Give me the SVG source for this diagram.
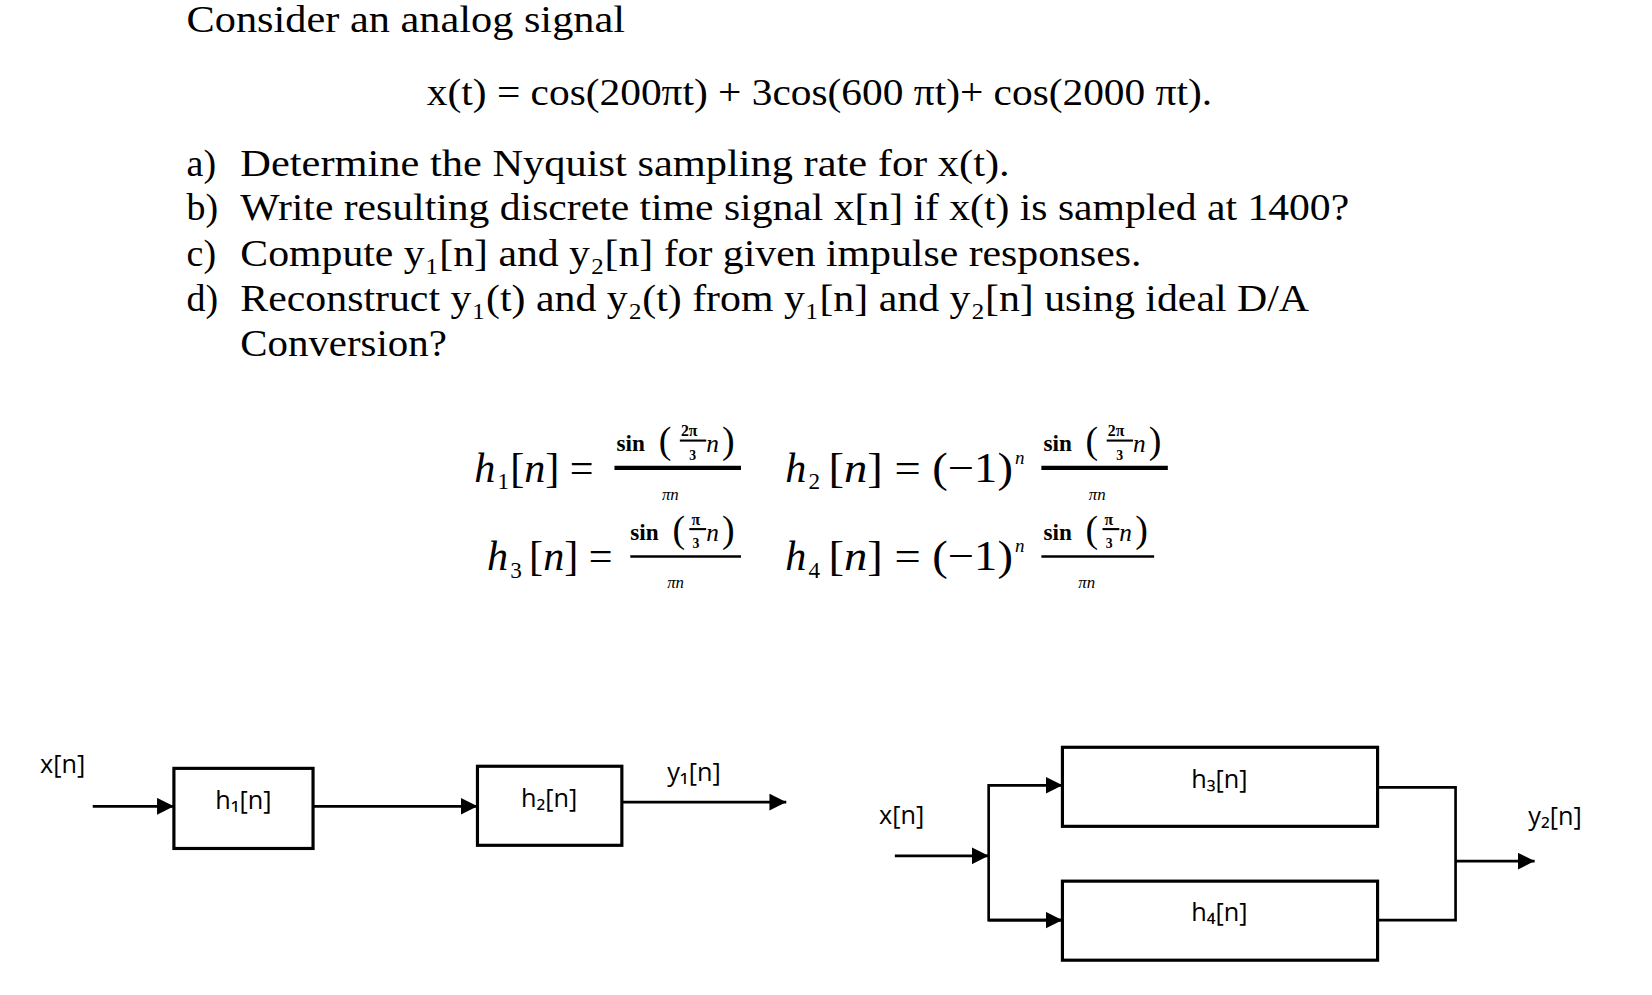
<svg xmlns="http://www.w3.org/2000/svg" width="1652" height="995" viewBox="0 0 1652 995">
<defs>
<marker id="ah" viewBox="0 0 10 10" refX="10" refY="5" markerWidth="16" markerHeight="16" markerUnits="userSpaceOnUse" orient="auto"><path d="M0,0L10,5L0,10z" fill="#000"/></marker>
</defs>
<style>
.t{font-family:"Liberation Serif",serif;font-size:36px;fill:#000}
.m{font-family:"Liberation Serif",serif;fill:#000}
.b{font-family:"Open Sans","Liberation Sans",sans-serif;font-size:24px;fill:#000}
.box{fill:#fff;stroke:#000;stroke-width:3}
.ln{fill:none;stroke:#000;stroke-width:2.5}
</style>
<rect width="1652" height="995" fill="#fff"/>
<g transform="scale(1.054)">
<g id="text">
<text class="t" x="177" y="30" textLength="416" lengthAdjust="spacingAndGlyphs">Consider an analog signal</text>
<text class="t" x="405" y="100" textLength="745" lengthAdjust="spacingAndGlyphs">x(t) = cos(200πt) + 3cos(600 πt)+ cos(2000 πt).</text>
<text class="t" x="177" y="167">a)</text><text class="t" x="228" y="167" textLength="730" lengthAdjust="spacingAndGlyphs">Determine the Nyquist sampling rate for x(t).</text>
<text class="t" x="177" y="209">b)</text><text class="t" x="228" y="209" textLength="1052" lengthAdjust="spacingAndGlyphs">Write resulting discrete time signal x[n] if x(t) is sampled at 1400?</text>
<text class="t" x="177" y="252">c)</text><text class="t" x="228" y="252" textLength="855" lengthAdjust="spacingAndGlyphs">Compute y₁[n] and y₂[n] for given impulse responses.</text>
<text class="t" x="177" y="295">d)</text><text class="t" x="228" y="295" textLength="1014" lengthAdjust="spacingAndGlyphs">Reconstruct y₁(t) and y₂(t) from y₁[n] and y₂[n] using ideal D/A</text>
<text class="t" x="228" y="338" textLength="196" lengthAdjust="spacingAndGlyphs">Conversion?</text>
</g>
<g id="formulas" class="m">
<text x="450" y="457" font-size="40" font-style="italic">h</text><text x="472" y="464" font-size="22">1</text><text x="484" y="457" font-size="40">[<tspan font-style="italic">n</tspan>] =</text>
<text x="585" y="428" font-size="22" font-weight="bold">sin</text><text x="625" y="430" font-size="36">(</text><text x="646" y="414" font-size="15" font-weight="bold">2π</text><line x1="645" y1="418" x2="670" y2="418" stroke="#000" stroke-width="2"/><text x="654" y="436" font-size="13" font-weight="bold">3</text><text x="670" y="429" font-size="24" font-style="italic">n</text><text x="685" y="430" font-size="36">)</text>
<line x1="583" y1="444" x2="703" y2="444" stroke="#000" stroke-width="4"/>
<text x="628" y="474" font-size="16" font-style="italic">πn</text>

<text x="745" y="457" font-size="40" font-style="italic">h</text><text x="767" y="464" font-size="22">2</text><text x="786" y="457" font-size="40" textLength="175" lengthAdjust="spacingAndGlyphs">[<tspan font-style="italic">n</tspan>] = (−1)</text><text x="963" y="440" font-size="18" font-style="italic">n</text>
<text x="990" y="428" font-size="22" font-weight="bold">sin</text><text x="1030" y="430" font-size="36">(</text><text x="1051" y="414" font-size="15" font-weight="bold">2π</text><line x1="1050" y1="418" x2="1075" y2="418" stroke="#000" stroke-width="2"/><text x="1059" y="436" font-size="13" font-weight="bold">3</text><text x="1075" y="429" font-size="24" font-style="italic">n</text><text x="1090" y="430" font-size="36">)</text>
<line x1="988" y1="444" x2="1108" y2="444" stroke="#000" stroke-width="4"/>
<text x="1033" y="474" font-size="16" font-style="italic">πn</text>

<text x="462" y="541" font-size="40" font-style="italic">h</text><text x="484" y="548" font-size="22">3</text><text x="502" y="541" font-size="40">[<tspan font-style="italic">n</tspan>] =</text>
<text x="598" y="512" font-size="22" font-weight="bold">sin</text><text x="638" y="514" font-size="36">(</text><text x="656" y="498" font-size="15" font-weight="bold">π</text><line x1="654" y1="502" x2="670" y2="502" stroke="#000" stroke-width="2"/><text x="657" y="520" font-size="13" font-weight="bold">3</text><text x="670" y="513" font-size="24" font-style="italic">n</text><text x="685" y="514" font-size="36">)</text>
<line x1="598" y1="528" x2="703" y2="528" stroke="#000" stroke-width="2.5"/>
<text x="633" y="558" font-size="16" font-style="italic">πn</text>

<text x="745" y="541" font-size="40" font-style="italic">h</text><text x="767" y="548" font-size="22">4</text><text x="786" y="541" font-size="40" textLength="175" lengthAdjust="spacingAndGlyphs">[<tspan font-style="italic">n</tspan>] = (−1)</text><text x="963" y="524" font-size="18" font-style="italic">n</text>
<text x="990" y="512" font-size="22" font-weight="bold">sin</text><text x="1030" y="514" font-size="36">(</text><text x="1048" y="498" font-size="15" font-weight="bold">π</text><line x1="1046" y1="502" x2="1062" y2="502" stroke="#000" stroke-width="2"/><text x="1049" y="520" font-size="13" font-weight="bold">3</text><text x="1062" y="513" font-size="24" font-style="italic">n</text><text x="1077" y="514" font-size="36">)</text>
<line x1="988" y1="528" x2="1095" y2="528" stroke="#000" stroke-width="2.5"/>
<text x="1023" y="558" font-size="16" font-style="italic">πn</text>
</g>
<g id="connectors">
<line class="ln" x1="88" y1="765" x2="165" y2="765" marker-end="url(#ah)"/>
<line class="ln" x1="297" y1="765" x2="453" y2="765" marker-end="url(#ah)"/>
<line class="ln" x1="590" y1="761" x2="746" y2="761" marker-end="url(#ah)"/>
<line class="ln" x1="849" y1="812" x2="938" y2="812" marker-end="url(#ah)"/>
<polyline class="ln" points="1008,745 938,745 938,873 1008,873"/>
<line class="ln" x1="938" y1="745" x2="1008" y2="745" marker-end="url(#ah)"/>
<line class="ln" x1="938" y1="873" x2="1008" y2="873" marker-end="url(#ah)"/>
<polyline class="ln" points="1307,747 1381,747 1381,873 1307,873"/>
<line class="ln" x1="1381" y1="817" x2="1456" y2="817" marker-end="url(#ah)"/>
</g>
<g id="h1"><rect class="box" x="165" y="729" width="132" height="76"/><text class="b" x="231" y="768" text-anchor="middle">h₁[n]</text></g>
<g id="h2"><rect class="box" x="453" y="727" width="137" height="75"/><text class="b" x="521" y="766" text-anchor="middle">h₂[n]</text></g>
<g id="h3"><rect class="box" x="1008" y="709" width="299" height="75"/><text class="b" x="1157" y="748" text-anchor="middle">h₃[n]</text></g>
<g id="h4"><rect class="box" x="1008" y="836" width="299" height="75"/><text class="b" x="1157" y="874" text-anchor="middle">h₄[n]</text></g>
<g id="labels">
<text class="b" x="38" y="733">x[n]</text>
<text class="b" x="633" y="741">y₁[n]</text>
<text class="b" x="834" y="782">x[n]</text>
<text class="b" x="1450" y="783">y₂[n]</text>
</g>
</g>
</svg>
